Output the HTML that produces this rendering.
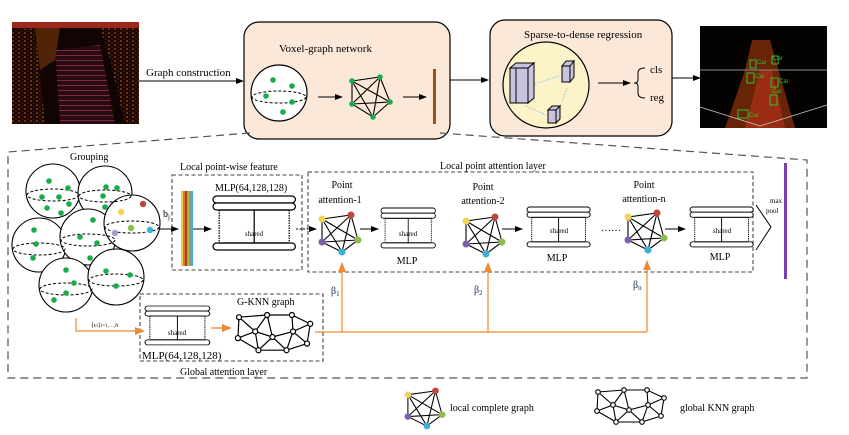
<!DOCTYPE html>
<html><head><meta charset="utf-8"><style>
body{margin:0;background:#fff}
svg{display:block;font-family:"Liberation Serif",serif}
</style></head><body>
<svg width="849" height="435" viewBox="0 0 849 435" xmlns="http://www.w3.org/2000/svg">
<defs>
<marker id="ah" markerWidth="8" markerHeight="8" refX="7" refY="4" orient="auto" markerUnits="userSpaceOnUse"><path d="M0,1 L8,4 L0,7 Z" fill="#000"/></marker>
<marker id="ao" markerWidth="10" markerHeight="10" refX="9" refY="5" orient="auto" markerUnits="userSpaceOnUse"><path d="M0,1 L10,5 L0,9 Z" fill="#ee8833"/></marker>
<pattern id="speck" width="6" height="4" patternUnits="userSpaceOnUse"><rect width="6" height="4" fill="#1a0804"/><circle cx="1" cy="1" r="0.8" fill="#d2641e"/><circle cx="4" cy="3" r="0.6" fill="#8a2a10"/></pattern>
<pattern id="stripe" width="4" height="5" patternUnits="userSpaceOnUse"><rect width="4" height="5" fill="#2a0c10"/><rect y="0" width="4" height="1" fill="#7a2a4a"/></pattern>
<g id="mlp" fill="#fff" stroke="#000" stroke-width="1.2">
<rect x="0" y="0" width="80" height="7" rx="3.5"/>
<rect x="0" y="7" width="80" height="7" rx="3.5"/>
<rect x="0" y="47" width="80" height="7" rx="3.5"/>
<line x1="6" y1="14" x2="74" y2="14"/><line x1="6" y1="47" x2="74" y2="47"/>
<line x1="6" y1="14" x2="6" y2="47" stroke-dasharray="1.5,1"/>
<line x1="74" y1="14" x2="74" y2="47" stroke-dasharray="1.5,1"/>
<line x1="40" y1="14" x2="40" y2="47"/>
</g>
<g id="cg" stroke="#000" stroke-width="1.1">
<path d="M2,6 L31,2 L38,27 L22,39 L2,29 Z M2,6 L38,27 M2,6 L22,39 M31,2 L22,39 M31,2 L2,29 M38,27 L2,29" fill="none"/>
<circle cx="2" cy="6" r="3.5" fill="#f3d45a" stroke="none"/>
<circle cx="31" cy="2" r="3.5" fill="#c0453b" stroke="none"/>
<circle cx="38" cy="27" r="3.5" fill="#8cbf4a" stroke="none"/>
<circle cx="22" cy="39" r="3.5" fill="#3cb1d3" stroke="none"/>
<circle cx="2" cy="29" r="3.5" fill="#7d61a8" stroke="none"/>
</g>
<g id="knn" stroke="#000" stroke-width="1.1" fill="none">
<path d="M0,2 L26,0 L49,0 L66,8 L63,26 M0,2 L-1,21 M0,2 L15,15 M26,0 L15,15 M26,0 L31,20 M49,0 L50,15 M66,8 L50,15 M-1,21 L15,15 L31,20 L50,15 L63,26 M-1,21 L18,32 M15,15 L18,32 M31,20 L18,32 M31,20 L44,32 M50,15 L44,32 M63,26 L44,32 M18,32 L44,32"/>
<g fill="#fff"><circle cx="0" cy="2" r="2.3"/><circle cx="26" cy="0" r="2.3"/><circle cx="49" cy="0" r="2.3"/><circle cx="66" cy="8" r="2.3"/><circle cx="-1" cy="21" r="2.3"/><circle cx="15" cy="15" r="2.3"/><circle cx="31" cy="20" r="2.3"/><circle cx="50" cy="15" r="2.3"/><circle cx="63" cy="26" r="2.3"/><circle cx="18" cy="32" r="2.3"/><circle cx="44" cy="32" r="2.3"/></g>
</g>
</defs>

<!-- left point cloud image -->
<rect x="12" y="22" width="127" height="102" fill="#100503"/>
<rect x="12" y="22" width="127" height="6" fill="#a0281a"/>
<path d="M12,30 L35,28 L45,124 L12,124Z" fill="url(#speck)"/>
<path d="M100,28 L139,28 L139,124 L125,124 L110,60Z" fill="url(#speck)"/>
<path d="M55,50 L100,45 L115,124 L60,124 Z" fill="url(#stripe)"/>
<path d="M35,28 L60,28 L55,60 L40,70Z" fill="#5a2808" opacity="0.9"/>
<!-- right detection image -->
<rect x="700" y="26" width="127" height="102" fill="#050202"/>
<path d="M725,128 L745,70 L752,40 L770,40 L795,128Z" fill="#7a2a08" opacity="0.85"/>
<path d="M745,128 L760,70 L772,70 L785,128Z" fill="#b0301a" opacity="0.7"/>
<line x1="700" y1="70" x2="827" y2="70" stroke="#888" stroke-width="1"/>
<path d="M700,107 L760,126 L827,105" fill="none" stroke="#ccc" stroke-width="0.8"/>
<g fill="none" stroke="#2fbf2f" stroke-width="1"><rect x="750" y="60" width="6" height="8"/><rect x="772" y="56" width="6" height="8"/><rect x="747" y="73" width="7" height="10"/><rect x="771" y="78" width="7" height="9"/><rect x="770" y="95" width="7" height="10"/><rect x="738" y="110" width="10" height="8"/></g>
<g font-family="Liberation Sans,sans-serif" font-size="6" fill="#2fbf2f"><text x="757" y="64">Car</text><text x="773" y="60">Car</text><text x="755" y="78">Car</text><text x="779" y="83">Car</text><text x="772" y="93">Car</text><text x="749" y="117">Car</text></g>

<line x1="139" y1="81" x2="243" y2="81" stroke="#000" stroke-width="1" marker-end="url(#ah)"/>
<text x="146" y="76" font-size="11">Graph construction</text>

<rect x="244" y="22" width="206" height="117" rx="15" fill="#fbe8d8" stroke="#000" stroke-width="1.2"/>
<text x="279" y="52" font-size="11">Voxel-graph network</text>
<circle cx="279" cy="93" r="28" fill="#fff" stroke="#000" stroke-width="1.2"/>
<ellipse cx="279" cy="97" rx="27" ry="6" fill="none" stroke="#000" stroke-dasharray="3,2"/>
<g fill="#1aaa4a"><circle cx="273" cy="80" r="2.8"/><circle cx="292" cy="86" r="2.8"/><circle cx="266" cy="96" r="2.8"/><circle cx="292" cy="102" r="2.8"/><circle cx="283" cy="112" r="2.8"/></g>
<line x1="318" y1="97" x2="342" y2="97" stroke="#000" marker-end="url(#ah)"/>
<path d="M352,81 L380,77 L390,102 L373,117 L352,104 Z M352,81 L390,102 M352,81 L373,117 M380,77 L373,117 M380,77 L352,104 M390,102 L352,104" fill="none" stroke="#000" stroke-width="1.1"/>
<g fill="#1aaa4a"><circle cx="352" cy="81" r="2.8"/><circle cx="380" cy="77" r="2.8"/><circle cx="390" cy="102" r="2.8"/><circle cx="373" cy="117" r="2.8"/><circle cx="352" cy="104" r="2.8"/></g>
<line x1="403" y1="97" x2="426" y2="97" stroke="#000" marker-end="url(#ah)"/>
<rect x="433" y="69" width="3" height="55" fill="#a0501a"/>
<line x1="450" y1="80" x2="488" y2="80" stroke="#000" marker-end="url(#ah)"/>

<rect x="490" y="20" width="182" height="116" rx="15" fill="#fbe8d8" stroke="#000" stroke-width="1.2"/>
<text x="524" y="38" font-size="11">Sparse-to-dense regression</text>
<circle cx="546" cy="85" r="43" fill="#fdf3c8" stroke="#000" stroke-width="1.2"/>
<g stroke="#000" stroke-width="1" fill="#c9c3df">
<path d="M510,68 L516,63 L534,63 L528,68Z"/><path d="M528,68 L534,63 L534,98 L528,103Z"/><rect x="510" y="68" width="18" height="35"/><line x1="516" y1="68" x2="516" y2="103"/>
<rect x="562" y="66" width="8" height="16"/><path d="M562,66 L566,61 L574,61 L570,66Z M570,66 L574,61 L574,77 L570,82Z"/>
<rect x="548" y="110" width="8" height="13"/><path d="M548,110 L552,106 L560,106 L556,110Z M556,110 L560,106 L560,119 L556,123Z"/>
</g>
<g stroke="#7fc6df" stroke-width="1" stroke-dasharray="1.5,1.5" fill="none"><line x1="535" y1="84" x2="559" y2="76"/><line x1="567" y1="88" x2="562" y2="102"/><line x1="526" y1="106" x2="546" y2="115"/></g>
<line x1="598" y1="83" x2="630" y2="83" stroke="#000" marker-end="url(#ah)"/>
<path d="M645,68 Q638,68 638,73 L638,80 Q638,83 634,83 Q638,83 638,86 L638,93 Q638,98 645,98" fill="none" stroke="#000"/>
<text x="650" y="73" font-size="11">cls</text>
<text x="650" y="101" font-size="11">reg</text>
<line x1="672" y1="78" x2="700" y2="78" stroke="#000" marker-end="url(#ah)"/>

<g fill="none" stroke="#555" stroke-width="1.2" stroke-dasharray="8,5">
<path d="M250,133 L8,152 L8,378 L807,378 L807,160 L440,133"/>
</g>

<text x="70" y="160" font-size="10">Grouping</text>
<g fill="#fff" stroke="#000" stroke-width="1.1">
<circle cx="53" cy="191" r="27"/><circle cx="105" cy="193" r="27"/>
<circle cx="39" cy="245" r="27"/><circle cx="88" cy="237" r="28"/>
<circle cx="66" cy="285" r="27"/><circle cx="116" cy="277" r="28"/>
<circle cx="132" cy="223" r="28"/>
</g>
<g fill="none" stroke="#000" stroke-dasharray="3,2"><ellipse cx="53" cy="195" rx="26" ry="6"/><ellipse cx="105" cy="196" rx="26" ry="6"/><ellipse cx="39" cy="249" rx="26" ry="6"/><ellipse cx="88" cy="240" rx="27" ry="6"/><ellipse cx="66" cy="289" rx="26" ry="6"/><ellipse cx="116" cy="280" rx="27" ry="6"/><ellipse cx="132" cy="227" rx="27" ry="6"/></g>
<g fill="#1aaa4a"><circle cx="49" cy="181" r="2.8"/><circle cx="68" cy="188" r="2.8"/><circle cx="42" cy="197" r="2.8"/><circle cx="59" cy="197" r="2.8"/><circle cx="69" cy="204" r="2.8"/><circle cx="47" cy="208" r="2.8"/><circle cx="61" cy="213" r="2.8"/>
<circle cx="106" cy="187" r="2.8"/><circle cx="117" cy="188" r="2.8"/><circle cx="103" cy="196" r="2.8"/><circle cx="105" cy="207" r="2.8"/>
<circle cx="34" cy="230" r="2.8"/><circle cx="36" cy="244" r="2.8"/><circle cx="33" cy="258" r="2.8"/>
<circle cx="93" cy="220" r="2.8"/><circle cx="80" cy="237" r="2.8"/><circle cx="97" cy="243" r="2.8"/><circle cx="90" cy="258" r="2.8"/>
<circle cx="66" cy="270" r="2.8"/><circle cx="66" cy="293" r="2.8"/><circle cx="54" cy="300" r="2.8"/><circle cx="74" cy="283" r="2.8"/>
<circle cx="130" cy="275" r="2.8"/><circle cx="116" cy="286" r="2.8"/><circle cx="106" cy="271" r="2.8"/></g>
<circle cx="143" cy="204" r="3.2" fill="#c0453b"/><circle cx="121" cy="212" r="3.2" fill="#f3d45a"/><circle cx="131" cy="228" r="3.2" fill="#8cbf4a"/><circle cx="115" cy="233" r="3.2" fill="#a99bc9"/><circle cx="150" cy="230" r="3.2" fill="#3cb1d3"/>
<text x="163" y="217" font-size="10">b<tspan font-size="7" dy="2">j</tspan></text>
<line x1="159" y1="229" x2="178" y2="229" stroke="#000" marker-end="url(#ah)"/>

<rect x="172" y="175" width="130" height="95" fill="none" stroke="#444" stroke-width="1.1" stroke-dasharray="4,2.5"/>
<text x="180" y="170" font-size="10">Local point-wise feature</text>
<rect x="181" y="191" width="2" height="75" fill="#f3c94a"/><rect x="183" y="191" width="2" height="75" fill="#e07a2a"/><rect x="185" y="191" width="2" height="75" fill="#b23a2a"/><rect x="187" y="191" width="2" height="75" fill="#8cbf4a"/><rect x="189" y="191" width="2" height="75" fill="#999"/><rect x="191" y="191" width="2" height="75" fill="#3cb1d3"/>
<line x1="193" y1="229" x2="211" y2="229" stroke="#000" marker-end="url(#ah)"/>
<text x="215" y="191" font-size="10">MLP(64,128,128)</text>
<use href="#mlp" transform="translate(213,196) scale(1.03,1)"/>
<text x="254" y="236" font-size="7" text-anchor="middle">shared</text>
<line x1="296" y1="229" x2="316" y2="229" stroke="#000" stroke-dasharray="2,1.5" marker-end="url(#ah)"/>

<rect x="308" y="172" width="445" height="100" fill="none" stroke="#444" stroke-width="1.1" stroke-dasharray="4,2.5"/>
<text x="440" y="169" font-size="10">Local point attention layer</text>
<text x="342" y="188" font-size="10" text-anchor="middle">Point</text>
<text x="340" y="203" font-size="10" text-anchor="middle">attention-1</text>
<use href="#cg" transform="translate(320,213)"/>
<line x1="360" y1="229" x2="378" y2="229" stroke="#000" marker-end="url(#ah)"/>
<use href="#mlp" transform="translate(381,208) scale(0.68,0.74)"/>
<text x="408" y="236" font-size="7" text-anchor="middle">shared</text>
<text x="407" y="264" font-size="10" text-anchor="middle">MLP</text>

<text x="483" y="190" font-size="10" text-anchor="middle">Point</text>
<text x="483" y="204" font-size="10" text-anchor="middle">attention-2</text>
<use href="#cg" transform="translate(464,215)"/>
<line x1="502" y1="229" x2="522" y2="229" stroke="#000" marker-end="url(#ah)"/>
<use href="#mlp" transform="translate(527,207) scale(0.79,0.74)"/>
<text x="559" y="233" font-size="7" text-anchor="middle">shared</text>
<text x="557" y="261" font-size="10" text-anchor="middle">MLP</text>
<text x="601" y="231" font-size="10">……</text>

<text x="644" y="188" font-size="10" text-anchor="middle">Point</text>
<text x="644" y="202" font-size="10" text-anchor="middle">attention-n</text>
<use href="#cg" transform="translate(626,211)"/>
<line x1="665" y1="229" x2="685" y2="229" stroke="#000" marker-end="url(#ah)"/>
<use href="#mlp" transform="translate(690,207) scale(0.79,0.74)"/>
<text x="722" y="233" font-size="7" text-anchor="middle">shared</text>
<text x="720" y="260" font-size="10" text-anchor="middle">MLP</text>
<path d="M756,205 L771,227 L756,250" fill="none" stroke="#000"/>
<text x="770" y="203" font-size="7">max</text>
<text x="766" y="213" font-size="7">pool</text>
<rect x="784" y="163" width="3" height="116" fill="#7a3fa8"/>

<rect x="140" y="294" width="183" height="67" fill="none" stroke="#444" stroke-width="1.1" stroke-dasharray="4,2.5"/>
<polyline points="76,318 76,331 144,331" fill="none" stroke="#ee8833" stroke-width="1.2" marker-end="url(#ao)"/>
<text x="91" y="327" font-size="6">{c<tspan font-size="5">i</tspan>}<tspan font-size="5">i=1,…,N</tspan></text>
<use href="#mlp" transform="translate(145,306) scale(0.81,0.72)"/>
<text x="177" y="335" font-size="7" text-anchor="middle">shared</text>
<text x="142" y="359" font-size="11">MLP(64,128,128)</text>
<text x="237" y="305" font-size="10">G-KNN graph</text>
<line x1="211" y1="328" x2="231" y2="328" stroke="#ee8833" stroke-width="1.2" marker-end="url(#ao)"/>
<use href="#knn" transform="translate(239,315) scale(1.08,1.1)"/>
<text x="180" y="375" font-size="10">Global attention layer</text>

<g fill="none" stroke="#ee8833" stroke-width="1.2">
<polyline points="315,332 647,332"/>
<line x1="342" y1="332" x2="342" y2="263" marker-end="url(#ao)"/>
<line x1="488" y1="332" x2="488" y2="263" marker-end="url(#ao)"/>
<line x1="647" y1="332" x2="647" y2="261" marker-end="url(#ao)"/>
</g>
<g font-size="10" fill="#1a2a4a"><text x="331" y="294">β<tspan font-size="7" dy="2">1</tspan></text><text x="474" y="293">β<tspan font-size="7" dy="2">2</tspan></text><text x="633" y="288">β<tspan font-size="7" dy="2">n</tspan></text></g>

<use href="#cg" transform="translate(406,389) scale(0.95,0.95)"/>
<text x="450" y="411" font-size="10">local complete graph</text>
<use href="#knn" transform="translate(598,390)"/>
<text x="680" y="411" font-size="10">global KNN graph</text>
</svg>
</body></html>
